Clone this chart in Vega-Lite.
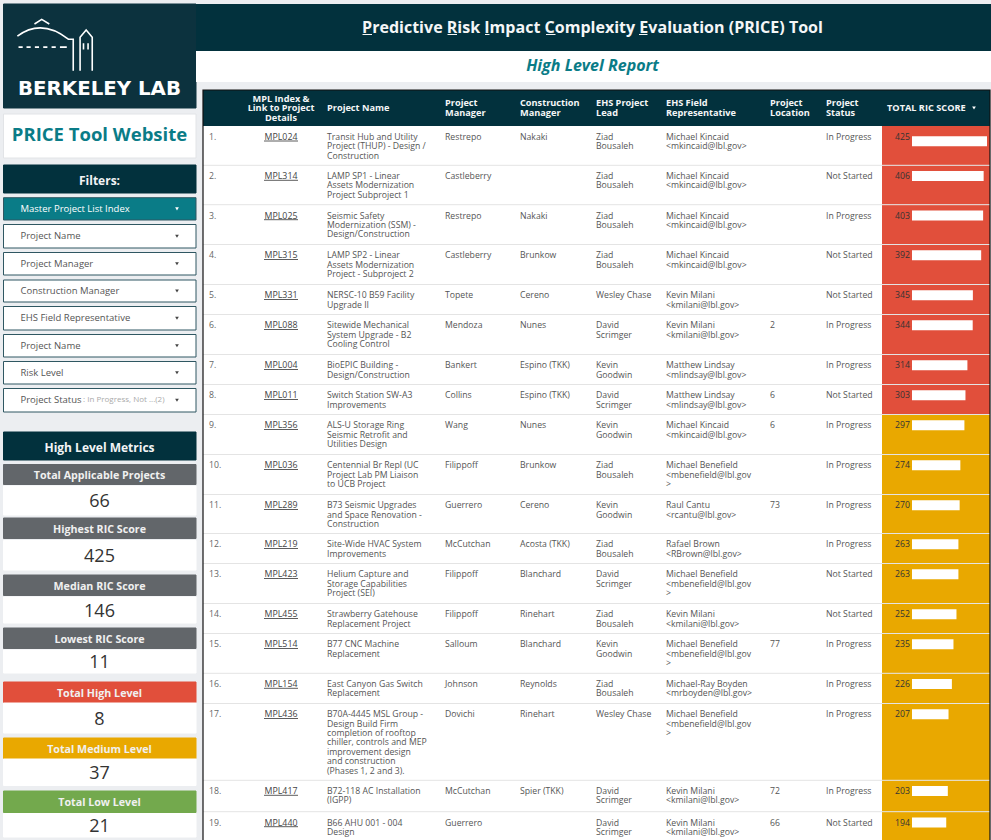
{"$schema":"https://vega.github.io/schema/vega-lite/v6.json","width":991,"height":840,"padding":0,"autosize":"none","background":"#eceef1","config":{"view":{"stroke":null},"font":"Open Sans"},
"datasets":{
"rows":[
{"rank":1,"MPL":"MPL024","Project Name":"Transit Hub and Utility\nProject (THUP) - Design /\nConstruction","Project Manager":"Restrepo","Construction Manager":"Nakaki","EHS Project Lead":"Ziad\nBousaleh","EHS Field Representative":"Michael Kincaid\n<mkincaid@lbl.gov>","Project Location":"","Project Status":"In Progress","score":425,"level":"High"},
{"rank":2,"MPL":"MPL314","Project Name":"LAMP SP1 - Linear\nAssets Modernization\nProject Subproject 1","Project Manager":"Castleberry","Construction Manager":"","EHS Project Lead":"Ziad\nBousaleh","EHS Field Representative":"Michael Kincaid\n<mkincaid@lbl.gov>","Project Location":"","Project Status":"Not Started","score":406,"level":"High"},
{"rank":3,"MPL":"MPL025","Project Name":"Seismic Safety\nModernization (SSM) -\nDesign/Construction","Project Manager":"Restrepo","Construction Manager":"Nakaki","EHS Project Lead":"Ziad\nBousaleh","EHS Field Representative":"Michael Kincaid\n<mkincaid@lbl.gov>","Project Location":"","Project Status":"In Progress","score":403,"level":"High"},
{"rank":4,"MPL":"MPL315","Project Name":"LAMP SP2 - Linear\nAssets Modernization\nProject - Subproject 2","Project Manager":"Castleberry","Construction Manager":"Brunkow","EHS Project Lead":"Ziad\nBousaleh","EHS Field Representative":"Michael Kincaid\n<mkincaid@lbl.gov>","Project Location":"","Project Status":"Not Started","score":392,"level":"High"},
{"rank":5,"MPL":"MPL331","Project Name":"NERSC-10 B59 Facility\nUpgrade II","Project Manager":"Topete","Construction Manager":"Cereno","EHS Project Lead":"Wesley Chase","EHS Field Representative":"Kevin Milani\n<kmilani@lbl.gov>","Project Location":"","Project Status":"Not Started","score":345,"level":"High"},
{"rank":6,"MPL":"MPL088","Project Name":"Sitewide Mechanical\nSystem Upgrade - B2\nCooling Control","Project Manager":"Mendoza","Construction Manager":"Nunes","EHS Project Lead":"David\nScrimger","EHS Field Representative":"Kevin Milani\n<kmilani@lbl.gov>","Project Location":"2","Project Status":"In Progress","score":344,"level":"High"},
{"rank":7,"MPL":"MPL004","Project Name":"BioEPIC Building -\nDesign/Construction","Project Manager":"Bankert","Construction Manager":"Espino (TKK)","EHS Project Lead":"Kevin\nGoodwin","EHS Field Representative":"Matthew Lindsay\n<mlindsay@lbl.gov>","Project Location":"","Project Status":"In Progress","score":314,"level":"High"},
{"rank":8,"MPL":"MPL011","Project Name":"Switch Station SW-A3\nImprovements","Project Manager":"Collins","Construction Manager":"Espino (TKK)","EHS Project Lead":"David\nScrimger","EHS Field Representative":"Matthew Lindsay\n<mlindsay@lbl.gov>","Project Location":"6","Project Status":"Not Started","score":303,"level":"High"},
{"rank":9,"MPL":"MPL356","Project Name":"ALS-U Storage Ring\nSeismic Retrofit and\nUtilities Design","Project Manager":"Wang","Construction Manager":"Nunes","EHS Project Lead":"Kevin\nGoodwin","EHS Field Representative":"Michael Kincaid\n<mkincaid@lbl.gov>","Project Location":"6","Project Status":"In Progress","score":297,"level":"Medium"},
{"rank":10,"MPL":"MPL036","Project Name":"Centennial Br Repl (UC\nProject Lab PM Liaison\nto UCB Project","Project Manager":"Filippoff","Construction Manager":"Brunkow","EHS Project Lead":"Ziad\nBousaleh","EHS Field Representative":"Michael Benefield\n<mbenefield@lbl.gov\n>","Project Location":"","Project Status":"In Progress","score":274,"level":"Medium"},
{"rank":11,"MPL":"MPL289","Project Name":"B73 Seismic Upgrades\nand Space Renovation -\nConstruction","Project Manager":"Guerrero","Construction Manager":"Cereno","EHS Project Lead":"Kevin\nGoodwin","EHS Field Representative":"Raul Cantu\n<rcantu@lbl.gov>","Project Location":"73","Project Status":"In Progress","score":270,"level":"Medium"},
{"rank":12,"MPL":"MPL219","Project Name":"Site-Wide HVAC System\nImprovements","Project Manager":"McCutchan","Construction Manager":"Acosta (TKK)","EHS Project Lead":"Ziad\nBousaleh","EHS Field Representative":"Rafael Brown\n<RBrown@lbl.gov>","Project Location":"","Project Status":"In Progress","score":263,"level":"Medium"},
{"rank":13,"MPL":"MPL423","Project Name":"Helium Capture and\nStorage Capabilities\nProject (SEI)","Project Manager":"Filippoff","Construction Manager":"Blanchard","EHS Project Lead":"David\nScrimger","EHS Field Representative":"Michael Benefield\n<mbenefield@lbl.gov\n>","Project Location":"","Project Status":"Not Started","score":263,"level":"Medium"},
{"rank":14,"MPL":"MPL455","Project Name":"Strawberry Gatehouse\nReplacement Project","Project Manager":"Filippoff","Construction Manager":"Rinehart","EHS Project Lead":"Ziad\nBousaleh","EHS Field Representative":"Kevin Milani\n<kmilani@lbl.gov>","Project Location":"","Project Status":"Not Started","score":252,"level":"Medium"},
{"rank":15,"MPL":"MPL514","Project Name":"B77 CNC Machine\nReplacement","Project Manager":"Salloum","Construction Manager":"Blanchard","EHS Project Lead":"Kevin\nGoodwin","EHS Field Representative":"Michael Benefield\n<mbenefield@lbl.gov\n>","Project Location":"77","Project Status":"In Progress","score":235,"level":"Medium"},
{"rank":16,"MPL":"MPL154","Project Name":"East Canyon Gas Switch\nReplacement","Project Manager":"Johnson","Construction Manager":"Reynolds","EHS Project Lead":"Ziad\nBousaleh","EHS Field Representative":"Michael-Ray Boyden\n<mrboyden@lbl.gov>","Project Location":"","Project Status":"In Progress","score":226,"level":"Medium"},
{"rank":17,"MPL":"MPL436","Project Name":"B70A-4445 MSL Group -\nDesign Build Firm\ncompletion of rooftop\nchiller, controls and MEP\nimprovement design\nand construction\n(Phases 1, 2 and 3).","Project Manager":"Dovichi","Construction Manager":"Rinehart","EHS Project Lead":"Wesley Chase","EHS Field Representative":"Michael Benefield\n<mbenefield@lbl.gov\n>","Project Location":"","Project Status":"In Progress","score":207,"level":"Medium"},
{"rank":18,"MPL":"MPL417","Project Name":"B72-118 AC Installation\n(IGPP)","Project Manager":"McCutchan","Construction Manager":"Spier (TKK)","EHS Project Lead":"David\nScrimger","EHS Field Representative":"Kevin Milani\n<kmilani@lbl.gov>","Project Location":"72","Project Status":"In Progress","score":203,"level":"Medium"},
{"rank":19,"MPL":"MPL440","Project Name":"B66 AHU 001 - 004\nDesign","Project Manager":"Guerrero","Construction Manager":"","EHS Project Lead":"David\nScrimger","EHS Field Representative":"Kevin Milani\n<kmilani@lbl.gov>","Project Location":"66","Project Status":"Not Started","score":194,"level":"Medium"}
],
"headers":[
{"label":"Project\nManager","slot":4},{"label":"Construction\nManager","slot":5},{"label":"EHS Project\nLead","slot":6},{"label":"EHS Field\nRepresentative","slot":7},{"label":"Project\nLocation","slot":8},{"label":"Project\nStatus","slot":9}
],
"singleHeaders":[{"label":"Project Name","slot":3},{"label":"TOTAL RIC SCORE","slot":11}],
"panels":[
{"seg":0,"name":"Logo","kind":"Logo"},
{"seg":1,"name":"PRICE Tool Website","kind":"Website"},
{"seg":2,"name":"Filters:","kind":"Section"},
{"seg":3,"name":"Master Project List Index","kind":"FilterActive"},
{"seg":4,"name":"Project Name","kind":"Filter"},
{"seg":5,"name":"Project Manager","kind":"Filter"},
{"seg":6,"name":"Construction Manager","kind":"Filter"},
{"seg":7,"name":"EHS Field Representative","kind":"Filter"},
{"seg":8,"name":"Project Name","kind":"Filter"},
{"seg":9,"name":"Risk Level","kind":"Filter"},
{"seg":10,"name":"Project Status","kind":"Filter"},
{"seg":11,"name":"High Level Metrics","kind":"Section"},
{"seg":12,"name":"Total Applicable Projects","kind":"MetricHead"},
{"seg":13,"name":"66","kind":"MetricValue"},
{"seg":14,"name":"Highest RIC Score","kind":"MetricHead"},
{"seg":15,"name":"425","kind":"MetricValue"},
{"seg":16,"name":"Median RIC Score","kind":"MetricHead"},
{"seg":17,"name":"146","kind":"MetricValue"},
{"seg":18,"name":"Lowest RIC Score","kind":"MetricHead"},
{"seg":19,"name":"11","kind":"MetricValue"},
{"seg":20,"name":"Total High Level","kind":"HighHead"},
{"seg":21,"name":"8","kind":"MetricValue"},
{"seg":22,"name":"Total Medium Level","kind":"MediumHead"},
{"seg":23,"name":"37","kind":"MetricValue"},
{"seg":24,"name":"Total Low Level","kind":"LowHead"},
{"seg":25,"name":"21","kind":"MetricValue"}
]},
"resolve":{"scale":{"x":"independent","y":"independent","fill":"independent","stroke":"independent","color":"independent"}},
"layer":[
{"data":{"name":"panels"},
 "transform":[{"calculate":"datum.seg*2","as":"top"},{"calculate":"datum.seg*2+1","as":"bottom"},{"calculate":"datum.seg*2+0.5","as":"mid"}],
 "layer":[
 {"mark":{"type":"rect","strokeWidth":1},"encoding":{
  "x":{"datum":0,"type":"quantitative","axis":null,"scale":{"domain":[0,1,2,3,4,5],"range":[3.5,20.5,83,99.5,177,196]}},
  "x2":{"datum":5},
  "y":{"field":"top","type":"quantitative","axis":null,"scale":{"domain":[0,1,2,3,4,5,6,7,8,9,10,11,12,13,14,15,16,17,18,19,20,21,22,23,24,25,26,27,28,29,30,31,32,33,34,35,36,37,38,39,40,41,42,43,44,45,46,47,48,49,50,51,52,53],"range":[4,108,114,158,165,193,197.7,220,224.5,248,252.5,275,280,302,306.5,330,334.5,357,361.5,384,388.5,412,432,460,464.5,484.5,486,515,518,538.5,540.5,570,575,595.5,597,623,628,648.5,650,673,682,702.5,703,733,738,758.5,759,785.5,791,812.5,813.5,837,845,850]}},
  "y2":{"field":"bottom"},
  "fill":{"field":"kind","type":"nominal","legend":null,"scale":{"domain":["Logo","Website","Section","FilterActive","Filter","MetricHead","MetricValue","HighHead","MediumHead","LowHead"],"range":["#0c323e","#ffffff","#02313d","#0a7c87","#ffffff","#62666a","#ffffff","#e14f3b","#e9a800","#73a94d"]}},
  "stroke":{"field":"kind","type":"nominal","legend":null,"scale":{"domain":["Logo","Website","Section","FilterActive","Filter","MetricHead","MetricValue","HighHead","MediumHead","LowHead"],"range":["#0c323e","#e2e4e7","#02313d","#2f5762","#2f5762","#62666a","#ffffff","#e14f3b","#e9a800","#73a94d"]}}}},
 {"transform":[{"filter":"datum.kind==='Website'"}],"mark":{"type":"text","fontSize":18.5,"fontWeight":"bold","color":"#0a7c87","align":"center","baseline":"middle","dy":-1.5},"encoding":{"x":{"datum":3,"type":"quantitative"},"y":{"field":"mid","type":"quantitative"},"text":{"field":"name"}}},
 {"transform":[{"filter":"datum.kind==='Section'"}],"mark":{"type":"text","fontSize":12,"fontWeight":"bold","color":"#f2f4f5","align":"center","baseline":"middle","dy":1.5},"encoding":{"x":{"datum":3,"type":"quantitative"},"y":{"field":"mid","type":"quantitative"},"text":{"field":"name"}}},
 {"transform":[{"filter":"indexof(['MetricHead','HighHead','MediumHead','LowHead'],datum.kind)>=0"}],"mark":{"type":"text","fontSize":10.7,"fontWeight":"bold","color":"#f0f0f0","align":"center","baseline":"middle","dy":1.5},"encoding":{"x":{"datum":3,"type":"quantitative"},"y":{"field":"mid","type":"quantitative"},"text":{"field":"name"}}},
 {"transform":[{"filter":"datum.kind==='MetricValue'"}],"mark":{"type":"text","fontSize":18,"color":"#333333","align":"center","baseline":"middle","dy":1.5},"encoding":{"x":{"datum":3,"type":"quantitative"},"y":{"field":"mid","type":"quantitative"},"text":{"field":"name"}}},
 {"transform":[{"filter":"datum.kind==='Filter'"}],"mark":{"type":"text","fontSize":9.5,"color":"#555555","align":"left","baseline":"middle"},"encoding":{"x":{"datum":1,"type":"quantitative"},"y":{"field":"mid","type":"quantitative"},"text":{"field":"name"}}},
 {"transform":[{"filter":"datum.kind==='FilterActive'"}],"mark":{"type":"text","fontSize":9.5,"color":"#ffffff","align":"left","baseline":"middle"},"encoding":{"x":{"datum":1,"type":"quantitative"},"y":{"field":"mid","type":"quantitative"},"text":{"field":"name"}}},
 {"data":{"values":[{"detail":": In Progress, Not ...(2)","mid":20.5}]},"mark":{"type":"text","fontSize":8,"color":"#aaaaaa","align":"left","baseline":"middle"},"encoding":{"x":{"datum":2,"type":"quantitative"},"y":{"field":"mid","type":"quantitative"},"text":{"field":"detail"}}},
 {"transform":[{"filter":"datum.kind==='Filter'"}],"mark":{"type":"point","shape":"triangle-down","filled":true,"size":14,"color":"#444444","opacity":1},"encoding":{"x":{"datum":4,"type":"quantitative"},"y":{"field":"mid","type":"quantitative"}}},
 {"transform":[{"filter":"datum.kind==='FilterActive'"}],"mark":{"type":"point","shape":"triangle-down","filled":true,"size":14,"color":"#ffffff","opacity":1},"encoding":{"x":{"datum":4,"type":"quantitative"},"y":{"field":"mid","type":"quantitative"}}},
 {"data":{"values":[{"label":"BERKELEY LAB","spot":0.82}]},"mark":{"type":"text","fontSize":19.8,"font":"DejaVu Sans","fontWeight":"bold","color":"#ffffff","align":"center","baseline":"middle"},"encoding":{"x":{"datum":3,"type":"quantitative"},"y":{"field":"spot","type":"quantitative"},"text":{"field":"label"}}}
 ]},
{"data":{"values":[{"logo":"Berkeley Lab","spotx":0.5,"spoty":0.5}]},
 "mark":{"type":"point","filled":false,"stroke":"#ffffff","strokeWidth":1.6,"opacity":1,"size":5776,"shape":"M-0.99 -0.22Q-0.35 -0.69 0.35 -0.14L0.48 -0.14L0.48 0.69M0.66 0.69L0.66 -0.19L0.82 -0.38L0.98 -0.19L0.98 0.69M-0.54 -0.54L-0.35 -0.66L-0.15 -0.54M0.75 -0.03L0.75 0.13M0.87 -0.03L0.87 0.13M-0.96 0.07L-0.85 0.07M-0.75 0.07L-0.64 0.07M-0.53 0.07L-0.42 0.07M-0.31 0.07L-0.2 0.07M-0.09 0.07L0.02 0.07M0.13 0.07L0.31 0.07"},
 "encoding":{"x":{"field":"spotx","type":"quantitative","axis":null,"scale":{"domain":[0,1],"range":[17,93]}},"y":{"field":"spoty","type":"quantitative","axis":null,"scale":{"domain":[0,1],"range":[6.5,82.5]}}}},
{"data":{"values":[{"band":"Title","from":0,"to":1},{"band":"Subtitle","from":1,"to":2}]},
 "layer":[
 {"mark":"rect","encoding":{
  "x":{"datum":0,"type":"quantitative","axis":null,"scale":{"domain":[0,1,2],"range":[196,592.5,991]}},"x2":{"datum":2},
  "y":{"field":"from","type":"quantitative","axis":null,"scale":{"domain":[0,1,2],"range":[4,51,82]}},"y2":{"field":"to"},
  "fill":{"field":"band","type":"nominal","legend":null,"scale":{"domain":["Title","Subtitle"],"range":["#02313d","#ffffff"]}}}},
 {"data":{"values":[{"t":"Predictive Risk Impact Complexity Evaluation (PRICE) Tool","spot":0.5}]},"mark":{"type":"text","fontSize":16.05,"fontWeight":"bold","color":"#f4f6f7","align":"center","baseline":"middle"},"encoding":{"x":{"datum":1,"type":"quantitative"},"y":{"field":"spot","type":"quantitative"},"text":{"field":"t"}}},
 {"data":{"values":[{"t":"High Level Report","spot":1.48}]},"mark":{"type":"text","fontSize":16.05,"fontWeight":"bold","fontStyle":"italic","color":"#0a7c87","align":"center","baseline":"middle"},"encoding":{"x":{"datum":1,"type":"quantitative"},"y":{"field":"spot","type":"quantitative"},"text":{"field":"t"}}}
 ]},
{"data":{"values":[{"letter":"P","from":0,"to":1},{"letter":"R","from":2,"to":3},{"letter":"I","from":4,"to":5},{"letter":"C","from":6,"to":7},{"letter":"E","from":8,"to":9}]},
 "mark":{"type":"rule","color":"#f4f6f7","strokeWidth":1},
 "encoding":{"x":{"field":"from","type":"quantitative","axis":null,"scale":{"domain":[0,1,2,3,4,5,6,7,8,9],"range":[362.5,372,447.5,457,485,489.5,546,555.5,639,647.5]}},"x2":{"field":"to"},"y":{"datum":0,"type":"quantitative","axis":null,"scale":{"domain":[0,1],"range":[34.5,35.5]}}}},
{"data":{"name":"rows"},
 "transform":[{"calculate":"datum.rank+1","as":"next"}],
 "layer":[
 {"data":{"values":[{"part":"Header","a":0,"b":1},{"part":"Body","a":1,"b":20}]},"mark":"rect","encoding":{
  "x":{"datum":0,"type":"quantitative","axis":null,"scale":{"domain":[0,1,2,3,4,5,6,7,8,9,10,11,12,13,14],"range":[203,209,281,327,445,520,596,666,770,826,882,887,910,974,990]}},"x2":{"datum":14},
  "y":{"field":"a","type":"quantitative","axis":null,"scale":{"domain":[0,1,2,3,4,5,6,7,8,9,10,11,12,13,14,15,16,17,18,19,20,21],"range":[90,126,165.3,204.7,244.5,284.5,314.5,354.5,384.5,414.5,454.5,494.5,533.5,563.5,603.5,633.5,673.3,703.5,780.3,811.7,851,860]}},"y2":{"field":"b"},
  "fill":{"field":"part","type":"nominal","legend":null,"scale":{"domain":["Header","Body"],"range":["#02313d","#ffffff"]}}}},
 {"mark":"rect","encoding":{"x":{"datum":10,"type":"quantitative"},"x2":{"datum":14},"y":{"field":"rank","type":"quantitative"},"y2":{"field":"next"},
  "color":{"field":"level","type":"nominal","legend":null,"scale":{"domain":["High","Medium","Low"],"range":["#e14f3b","#e9a800","#73a94d"]}}}},
 {"transform":[{"filter":"datum.rank>1"}],"mark":{"type":"rule","color":"#e4e4e4","strokeWidth":1},"encoding":{"x":{"datum":0,"type":"quantitative"},"x2":{"datum":14},"y":{"field":"rank","type":"quantitative"}}},
 {"transform":[{"calculate":"datum.rank+'.'","as":"order"}],"mark":{"type":"text","fontSize":8.7,"color":"#666666","align":"left","baseline":"top","dy":6.8},"encoding":{"x":{"datum":1,"type":"quantitative"},"y":{"field":"rank","type":"quantitative"},"text":{"field":"order"}}},
 {"mark":{"type":"text","fontSize":8.8,"color":"#444444","align":"center","baseline":"top","dy":6.8},"encoding":{"x":{"datum":2,"type":"quantitative"},"y":{"field":"rank","type":"quantitative"},"text":{"field":"MPL"}}},
 {"mark":{"type":"rule","color":"#333333","strokeWidth":0.8,"xOffset":-17,"x2Offset":17,"yOffset":15},"encoding":{"x":{"datum":2,"type":"quantitative"},"x2":{"datum":2},"y":{"field":"rank","type":"quantitative"}}},
 {"transform":[{"fold":["Project Name","Project Manager","Construction Manager","EHS Project Lead","EHS Field Representative","Project Location","Project Status"],"as":["column","cell"]},{"calculate":"3+indexof(['Project Name','Project Manager','Construction Manager','EHS Project Lead','EHS Field Representative','Project Location','Project Status'],datum.column)","as":"slot"}],
  "mark":{"type":"text","fontSize":8.7,"lineHeight":9.4,"lineBreak":"\n","color":"#555555","align":"left","baseline":"top","dy":6.8},"encoding":{"x":{"field":"slot","type":"quantitative"},"y":{"field":"rank","type":"quantitative"},"text":{"field":"cell"}}},
 {"transform":[{"calculate":"datum.score+''","as":"scoreText"}],"mark":{"type":"text","fontSize":8.7,"color":"#333333","align":"right","baseline":"top","dy":6.8},"encoding":{"x":{"datum":12,"type":"quantitative"},"y":{"field":"rank","type":"quantitative"},"text":{"field":"scoreText"}}},
 {"data":{"name":"headers"},"mark":{"type":"text","fontSize":9.2,"fontWeight":"bold","lineHeight":9.2,"lineBreak":"\n","color":"#f4f6f7","align":"left","baseline":"middle","dy":-4.6},"encoding":{"x":{"field":"slot","type":"quantitative"},"y":{"datum":0.5,"type":"quantitative"},"text":{"field":"label"}}},
 {"data":{"name":"singleHeaders"},"mark":{"type":"text","fontSize":9.2,"fontWeight":"bold","color":"#f4f6f7","align":"left","baseline":"middle"},"encoding":{"x":{"field":"slot","type":"quantitative"},"y":{"datum":0.5,"type":"quantitative"},"text":{"field":"label"}}},
 {"data":{"values":[{"label":"MPL Index &\nLink to Project\nDetails"}]},"mark":{"type":"text","fontSize":9.2,"fontWeight":"bold","lineHeight":9.5,"lineBreak":"\n","color":"#f4f6f7","align":"center","baseline":"middle","dy":-9.5},"encoding":{"x":{"datum":2,"type":"quantitative"},"y":{"datum":0.5,"type":"quantitative"},"text":{"field":"label"}}},
 {"data":{"values":[{"sort":"descending"}]},"mark":{"type":"point","shape":"triangle-down","filled":true,"size":14,"color":"#ffffff","opacity":1},"encoding":{"x":{"datum":13,"type":"quantitative"},"y":{"datum":0.5,"type":"quantitative"}}},
 {"data":{"values":[{"part":"Table"}]},"mark":{"type":"rect","fill":null,"stroke":"#111111","strokeWidth":1.2},"encoding":{"x":{"datum":0,"type":"quantitative"},"x2":{"datum":14},"y":{"datum":0,"type":"quantitative"},"y2":{"datum":21}}}
 ]},
{"data":{"name":"rows"},"mark":{"type":"bar","orient":"horizontal","size":10,"color":"#ffffff","yOffset":10.7},
 "encoding":{"x":{"field":"score","type":"quantitative","axis":null,"scale":{"domain":[0,425],"range":[912,987]}},
 "y":{"field":"rank","type":"quantitative","axis":null,"scale":{"domain":[1,2,3,4,5,6,7,8,9,10,11,12,13,14,15,16,17,18,19,20],"range":[126,165.3,204.7,244.5,284.5,314.5,354.5,384.5,414.5,454.5,494.5,533.5,563.5,603.5,633.5,673.3,703.5,780.3,811.7,851]}}}}
]}
